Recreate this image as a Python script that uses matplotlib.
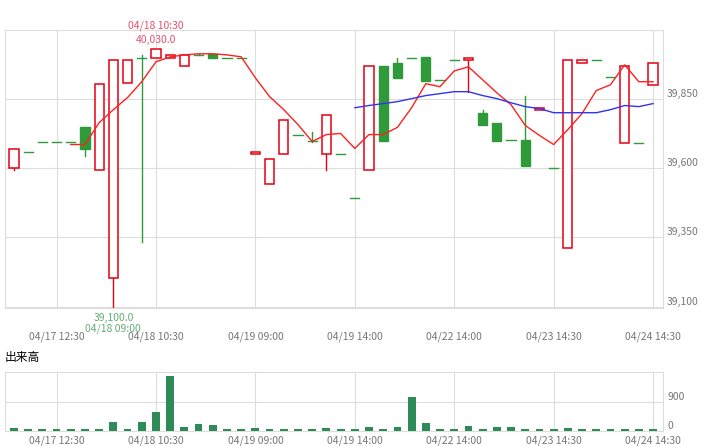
import matplotlib
matplotlib.use("Agg")
import matplotlib.pyplot as plt
from matplotlib.patches import Rectangle

plt.rcParams['font.family'] = ['Noto Sans CJK JP', 'DejaVu Sans']

opens = [39600,39660,39695,39695,39695,39750,39595,39205,39910,39999,39999,39999,39970,40010,40015,39999,39999,39650,39542,39650,
         39722,39697,39650,39650,39492,39593,39970,39981,39999,40003,39920,39992,39992,39801,39762,39701,39701,39812,39600,39312,
         39981,39992,39931,39690,39690,39902]
closes = [39670,39660,39695,39695,39695,39670,39905,39990,39992,39999,40032,40010,40010,40010,39999,39999,39999,39658,39632,39773,
          39722,39697,39791,39650,39492,39970,39697,39927,39999,39917,39920,39992,39999,39758,39697,39701,39607,39819,39600,39992,
          39992,39992,39931,39970,39690,39981]
highs = [39670,39660,39695,39695,39695,39750,39905,39990,39992,40010,40032,40010,40010,40015,40015,39999,39999,39658,39632,39773,
         39722,39733,39791,39650,39492,39970,39970,39999,39999,40003,39920,39992,39999,39812,39762,39701,39863,39819,39600,39992,
         39992,39992,39931,39970,39690,39981]
lows = [39593,39660,39695,39695,39695,39643,39595,39100,39910,39335,39999,39999,39970,40010,39999,39999,39999,39650,39542,39650,
        39722,39694,39593,39650,39492,39593,39697,39927,39999,39917,39920,39992,39877,39758,39697,39701,39607,39812,39600,39312,
        39981,39992,39931,39690,39690,39902]
ma_short = [None,None,None,None,39686,39686,39765,39812,39856,39913,39985,40003,40010,40014,40014,40010,40003,39927,39859,39812,
            39758,39697,39722,39726,39672,39722,39722,39748,39819,39906,39895,39952,39967,39920,39873,39830,39755,39719,39686,39740,
            39798,39881,39902,39974,39913,39913]
ma_long = [None]*24 + [39819,39827,39834,39841,39852,39863,39870,39877,39877,39863,39852,39837,39823,39816,39801,39801,39801,39801,39812,39827,39823,39834]
volumes = [83,52,52,52,52,52,52,280,52,280,590,1700,115,205,175,52,52,83,52,52,
           52,52,83,52,52,115,52,115,1045,240,52,52,145,52,115,115,52,52,52,83,
           52,52,52,52,52,52]
tick_idx = [3,10,17,24,31,38,45]
tick_labels = ["04/17 12:30","04/18 10:30","04/19 09:00","04/19 14:00","04/22 14:00","04/23 14:30","04/24 14:30"]
price_ticks = [39100,39350,39600,39850]
vol_ticks = [0,900]

RED = "#e60012"; GREEN = "#2e9a3a"; GRID = "#dddddd"; TXT = "#777777"
fig = plt.figure(figsize=(7.05,4.46), dpi=100)
ax = fig.add_axes([5/705, 138/446, 658/705, 278/446])
axv = fig.add_axes([5/705, 15/446, 658/705, 59/446])
x = list(range(len(opens)))
w = 0.65
for i in x:
    o, c, h, l = opens[i], closes[i], highs[i], lows[i]
    up = c > o
    col = RED if up else GREEN
    lo_b, hi_b = min(o,c), max(o,c)
    ax.plot([i,i],[l,lo_b], color=col, lw=1, zorder=2)
    ax.plot([i,i],[hi_b,h], color=col, lw=1, zorder=2)
    if abs(c-o) < 1:
        ax.plot([i-w/2, i+w/2],[o,o], color=GREEN, lw=1, zorder=3)
    elif up:
        ax.add_patch(Rectangle((i-w/2, lo_b), w, hi_b-lo_b, facecolor="white", edgecolor=RED, lw=1.1, zorder=3))
    else:
        ax.add_patch(Rectangle((i-w/2, lo_b), w, hi_b-lo_b, facecolor=GREEN, edgecolor=GREEN, lw=1, zorder=3))
xs = [i for i in x if ma_short[i] is not None]
ax.plot(xs, [ma_short[i] for i in xs], color="#ff2020", lw=1, zorder=4)
xl = [i for i in x if ma_long[i] is not None]
ax.plot(xl, [ma_long[i] for i in xl], color="#3333ee", lw=1, zorder=4)
xlim = (-0.63, 45.7)
for a in (ax, axv):
    a.set_xlim(*xlim)
    a.set_xticks(tick_idx)
    a.set_xticklabels(tick_labels, fontsize=7.5, color=TXT)
    a.grid(True, color=GRID, lw=0.8)
    a.set_axisbelow(True)
    a.tick_params(length=0, pad=3)
    a.yaxis.tick_right()
    for s in a.spines.values():
        s.set_color(GRID)
ax.set_ylim(39095, 40100)
ax.set_yticks(price_ticks)
ax.set_yticklabels([f"{v:,}" for v in price_ticks], fontsize=7.5, color=TXT, va="bottom")
ax.tick_params(axis='x', pad=17)
axv.bar(x, volumes, width=0.55, color="#2e8b57", zorder=3)
axv.set_ylim(0, 1820)
axv.set_yticks(vol_ticks)
axv.set_yticklabels([str(v) for v in vol_ticks], fontsize=7.5, color=TXT, va="bottom")
ax.text(10, 40115, "04/18 10:30", color="#e8506a", fontsize=7.5, ha="center", va="center", clip_on=False)
ax.text(10, 40064, "40,030.0", color="#e8506a", fontsize=7.5, ha="center", va="center")
ax.text(7, 39060, "39,100.0", color="#66aa77", fontsize=7.5, ha="center", va="center", clip_on=False)
ax.text(7, 39020, "04/18 09:00", color="#66aa77", fontsize=7.5, ha="center", va="center", clip_on=False)
fig.text(5/705, 1-357/446, "出来高", fontsize=8.5, color="black", va="center")
fig.savefig("out.png", dpi=100)
